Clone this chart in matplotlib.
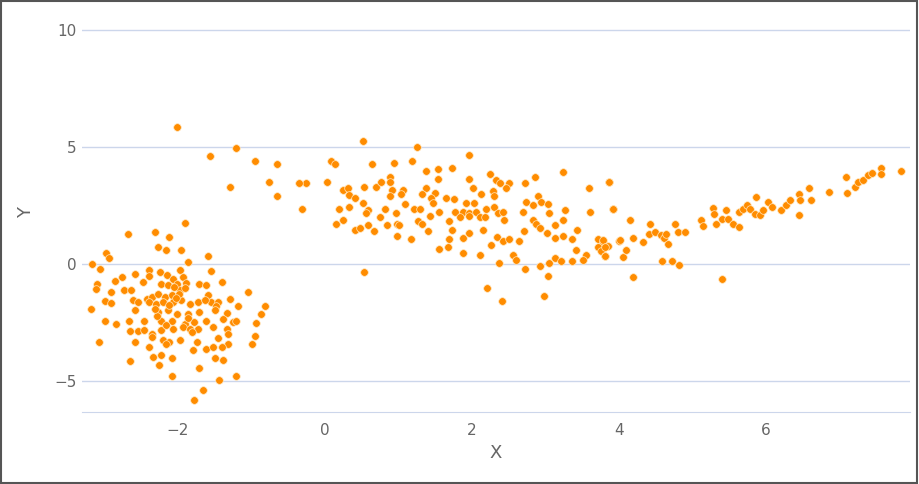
import matplotlib.pyplot as plt
from matplotlib.patches import Rectangle

# 左侧簇
left_pts = [
    (-2.01, 5.85), (-1.56, 4.62), (-1.20, 4.96), (-0.94, 4.40), (-0.65, 4.27), (-0.75, 3.50),
    (-0.64, 2.91), (-1.28, 3.29),
    (-1.89, 1.75), (-2.67, 1.28), (-2.30, 1.37), (-2.11, 1.15), (-2.27, 0.73), (-2.15, 0.60),
    (-1.95, 0.60), (-1.59, 0.34), (-2.97, 0.47), (-2.93, 0.26), (-3.16, 0.0), (-3.05, -0.21),
    (-1.86, 0.08), (-1.54, -0.30),
    (-2.76, -0.55), (-2.85, -0.72), (-2.58, -0.43), (-2.38, -0.26), (-2.38, -0.52), (-2.24, -0.33),
    (-2.14, -0.47), (-2.06, -0.62), (-1.97, -0.26), (-1.92, -0.55), (-2.47, -0.76), (-1.88, -0.80),
    (-3.09, -0.83), (-3.11, -1.04), (-2.90, -1.19), (-2.72, -1.11), (-2.63, -1.11), (-2.22, -0.83),
    (-2.13, -0.90), (-2.01, -0.83), (-1.97, -1.11), (-1.70, -0.83), (-1.61, -0.90), (-1.40, -0.76),
    (-1.04, -1.19), (-1.58, -1.33), (-1.54, -1.61), (-1.45, -1.61), (-2.42, -1.47), (-2.35, -1.40),
    (-2.26, -1.26), (-2.17, -1.40), (-2.08, -1.33), (-2.60, -1.54), (-2.54, -1.61), (-2.38, -1.61),
    (-2.29, -1.68), (-2.20, -1.61), (-2.06, -1.61), (-1.95, -1.54), (-1.83, -1.68), (-1.72, -1.61),
    (-1.63, -1.54), (-1.47, -1.76), (-1.29, -1.47), (-1.18, -1.76), (-0.81, -1.76), (-2.99, -1.57),
    (-2.90, -1.66), (-3.17, -1.93), (-2.58, -1.94), (-2.26, -2.04), (-2.13, -1.97), (-2.01, -2.11),
    (-1.86, -2.11), (-1.70, -2.04), (-1.49, -1.97), (-1.33, -2.07), (-0.86, -2.11), (-2.99, -2.44),
    (-2.83, -2.57), (-2.66, -2.44), (-2.45, -2.40), (-2.22, -2.40), (-2.08, -2.40), (-1.90, -2.54),
    (-1.77, -2.47), (-1.61, -2.40), (-1.38, -2.33), (-1.24, -2.47), (-0.93, -2.51), (-2.64, -2.85),
    (-2.54, -2.85), (-2.45, -2.82), (-2.35, -2.97), (-2.22, -2.80), (-2.06, -2.75), (-1.92, -2.68),
    (-1.83, -2.75), (-1.72, -2.75), (-1.52, -2.68), (-1.33, -2.75), (-1.20, -2.44), (-3.07, -3.32),
    (-2.58, -3.32), (-2.35, -3.11), (-2.20, -3.25), (-2.11, -3.32), (-1.97, -3.25), (-1.74, -3.32),
    (-1.45, -3.14), (-1.31, -3.39), (-0.99, -3.39), (-0.94, -3.08), (-2.38, -3.54), (-2.16, -3.39),
    (-1.79, -3.68), (-1.61, -3.61), (-1.52, -3.51), (-1.40, -3.54), (-1.31, -2.97), (-2.64, -4.13),
    (-2.33, -3.96), (-2.22, -3.89), (-2.07, -4.01), (-2.25, -4.32), (-1.49, -4.01), (-1.38, -4.08),
    (-1.71, -4.42), (-2.07, -4.78), (-1.20, -4.78), (-1.43, -4.96), (-1.65, -5.36), (-1.77, -5.79),
    (-2.05, -0.95), (-1.98, -1.25), (-2.12, -1.75), (-2.28, -2.20), (-1.85, -2.30), (-2.02, -1.45),
    (-1.90, -1.00), (-2.15, -2.60), (-1.80, -2.90), (-2.30, -1.90),
]

# 中间带
mid_pts = [
    (0.52, 5.27), (1.26, 5.02), (0.09, 4.41), (0.14, 4.26), (0.64, 4.26), (0.94, 4.33), (1.19, 4.41),
    (1.97, 4.66), (1.38, 3.99), (1.54, 4.06), (1.74, 4.13), (-0.25, 3.45), (-0.34, 3.45), (0.03, 3.52),
    (0.25, 3.17), (0.32, 3.24), (0.54, 3.31), (0.70, 3.31), (0.77, 3.52), (0.89, 3.74), (0.89, 3.52),
    (0.92, 3.19), (1.07, 3.19), (1.04, 2.98), (0.89, 2.91), (1.38, 3.24), (1.32, 3.02), (1.50, 3.05),
    (1.54, 3.64), (1.97, 3.66), (2.02, 3.24), (2.13, 2.98), (2.25, 3.84), (2.33, 3.59), (2.39, 3.48),
    (2.51, 3.45), (2.47, 3.24), (2.29, 3.12), (2.31, 2.91), (2.73, 3.45), (2.86, 3.74), (3.25, 3.92),
    (3.60, 3.27), (3.87, 3.52), (0.34, 2.95), (0.41, 2.81), (0.52, 2.62), (0.34, 2.45), (0.20, 2.35),
    (-0.30, 2.35), (0.59, 2.31), (0.57, 2.17), (0.82, 2.37), (0.97, 2.17), (1.09, 2.57), (1.22, 2.37),
    (1.30, 2.35), (1.45, 2.81), (1.47, 2.60), (1.65, 2.84), (1.76, 2.77), (1.93, 2.62), (2.04, 2.62),
    (1.77, 2.24), (1.88, 2.24), (1.97, 2.17), (2.06, 2.24), (2.20, 2.37), (2.31, 2.43), (2.36, 2.20),
    (2.44, 1.91), (2.70, 2.23), (2.74, 2.64), (2.83, 2.52), (2.90, 2.91), (2.95, 2.67), (3.04, 2.57),
    (3.05, 2.17), (3.27, 2.31), (3.61, 2.23), (3.93, 2.37), (0.16, 1.74), (0.25, 1.88), (0.41, 1.48),
    (0.48, 1.56), (0.59, 1.67), (0.68, 1.43), (0.75, 2.03), (0.85, 1.67), (0.98, 1.74), (1.02, 1.67),
    (1.27, 1.84), (1.32, 1.70), (1.43, 2.05), (1.41, 1.41), (1.56, 2.24), (1.70, 1.84), (1.84, 2.03),
    (1.97, 2.05), (2.11, 2.00), (2.18, 2.00), (2.43, 2.25), (2.83, 1.88), (2.88, 1.74), (2.93, 1.54),
    (3.02, 1.34), (3.14, 1.67), (3.24, 1.88), (3.44, 1.46), (0.98, 1.20), (1.18, 1.07), (1.69, 1.06),
    (1.74, 1.48), (1.89, 1.14), (1.97, 1.34), (2.16, 1.48), (2.34, 1.17), (2.27, 0.82), (2.43, 1.00),
    (2.51, 1.07), (2.64, 0.99), (2.71, 1.43), (3.13, 1.10), (3.24, 1.20), (3.36, 1.06), (3.72, 1.06),
    (3.79, 0.96), (4.01, 0.99), (1.56, 0.67), (1.68, 0.74), (1.89, 0.49), (2.11, 0.39), (2.56, 0.39),
    (2.61, 0.17), (2.38, 0.07), (2.73, -0.21), (2.93, -0.07), (3.06, 0.06), (3.14, 0.27), (3.22, 0.13),
    (3.36, 0.13), (3.42, 0.60), (3.56, 0.39), (3.51, 0.17), (3.72, 0.72), (3.76, 0.57), (3.86, 0.77),
    (3.81, 0.36), (3.04, -0.48), (0.54, -0.35), (2.21, -1.02), (2.42, -1.58), (2.98, -1.35),
]

# 右侧
right_pts = [
    (3.87, 3.52), (3.93, 2.35), (4.15, 1.91), (4.19, 1.14), (4.02, 1.02), (3.79, 1.02), (3.81, 0.74),
    (3.81, 0.34), (4.06, 0.31), (4.10, 0.60), (4.33, 0.95), (4.42, 1.31), (4.43, 1.71), (4.49, 1.38),
    (4.58, 1.24), (4.62, 1.14), (4.67, 0.88), (4.65, 1.31), (4.77, 1.71), (4.81, 1.38), (4.90, 1.38),
    (4.59, 0.14), (4.73, 0.14), (4.82, -0.04), (4.19, -0.54), (5.40, -0.61), (5.12, 1.88), (5.15, 1.62),
    (5.28, 2.42), (5.30, 2.16), (5.33, 1.71), (5.40, 1.95), (5.46, 2.31), (5.49, 1.95), (5.55, 1.74),
    (5.64, 1.59), (5.64, 2.24), (5.69, 2.38), (5.74, 2.52), (5.78, 2.38), (5.85, 2.16), (5.87, 2.88),
    (5.92, 2.09), (5.96, 2.31), (6.03, 2.66), (6.08, 2.45), (6.21, 2.31), (6.28, 2.52), (6.33, 2.76),
    (6.45, 3.02), (6.46, 2.73), (6.45, 2.09), (6.59, 3.27), (6.62, 2.73), (6.86, 3.09), (7.09, 3.73),
    (7.10, 3.05), (7.21, 3.30), (7.25, 3.52), (7.32, 3.59), (7.39, 3.80), (7.45, 3.90), (7.57, 4.09),
    (7.57, 3.87), (7.84, 3.99),
]

pts = left_pts + mid_pts + right_pts
xs = [p[0] for p in pts]
ys = [p[1] for p in pts]

fig = plt.figure(figsize=(9.19, 4.84), dpi=100, facecolor="white")
ax = fig.add_axes([0.089, 0.149, 0.901, 0.822])
ax.scatter(xs, ys, s=30, color="#ff8c00", edgecolors="#ffe8c0", linewidths=0.5, zorder=3)

ax.set_xlim(-3.3, 7.96)
ax.set_ylim(-6.3, 10.68)
ax.set_yticks([-5, 0, 5, 10])
ax.set_yticklabels(["\u22125", "0", "5", "10"])
ax.set_xticks([-2, 0, 2, 4, 6])
ax.set_xticklabels(["\u22122", "0", "2", "4", "6"])
ax.grid(axis="y", color="#ccd6eb", linewidth=1)
ax.set_axisbelow(True)
for side in ["top", "right", "left"]:
    ax.spines[side].set_visible(False)
ax.spines["bottom"].set_color("#ccd6eb")
ax.tick_params(axis="both", length=0, colors="#666666", labelsize=11)
ax.tick_params(axis="x", pad=8)
ax.set_xlabel("X", color="#666666", fontsize=13, labelpad=4)
ax.set_ylabel("Y", color="#666666", fontsize=13, labelpad=14)

# 外框
fig.patches.append(Rectangle((0.001, 0.002), 0.997, 0.996, transform=fig.transFigure,
                             fill=False, edgecolor="#555555", linewidth=1.5))

fig.savefig("out.png", dpi=100)
